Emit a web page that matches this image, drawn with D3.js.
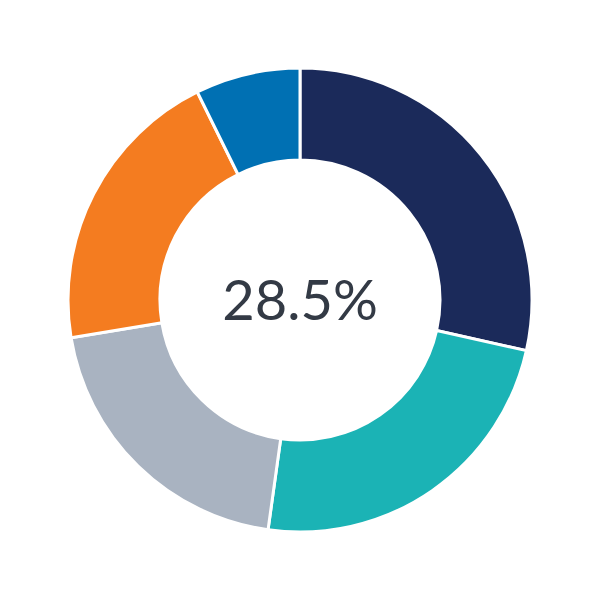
<!DOCTYPE html>
<html>
<head>
<meta charset="utf-8">
<script src="https://cdn.jsdelivr.net/npm/d3@7"></script>
<style>
  body { margin: 0; background: #fff; }
  .center-label { font-family: Lato, "Open Sans", sans-serif; fill: #333a45; }
</style>
</head>
<body>
<svg id="chart"></svg>
<script>
var categories = ["A", "B", "C", "D", "E"];
var values = [28.5, 23.7, 20.2, 20.3, 7.3];
var colors = ["#1b2a5a", "#1bb3b5", "#a9b3c1", "#f47c20", "#0070b3"];
var centerText = "28.5%";

var width = 600, height = 600;
var outerR = 232, innerR = 140;

var svg = d3.select("#chart")
    .attr("width", width)
    .attr("height", height)
  .append("g")
    .attr("transform", "translate(" + width / 2 + "," + height / 2 + ")");

var data = categories.map(function(c, i){ return {name: c, value: values[i]}; });

var pie = d3.pie().sort(null).value(function(d){ return d.value; });
var arc = d3.arc().innerRadius(innerR).outerRadius(outerR);
var color = d3.scaleOrdinal().domain(categories).range(colors);

svg.selectAll("path")
  .data(pie(data))
  .enter().append("path")
    .attr("d", arc)
    .attr("fill", function(d){ return color(d.data.name); })
    .attr("stroke", "#fff")
    .attr("stroke-width", 3);

//Center label
svg.append("text")
  .attr("class", "center-label")
  .attr("text-anchor", "middle")
  .attr("dy", "0.35em")
  .style("font-size", "56px")
  .text(centerText);
</script>
</body>
</html>
